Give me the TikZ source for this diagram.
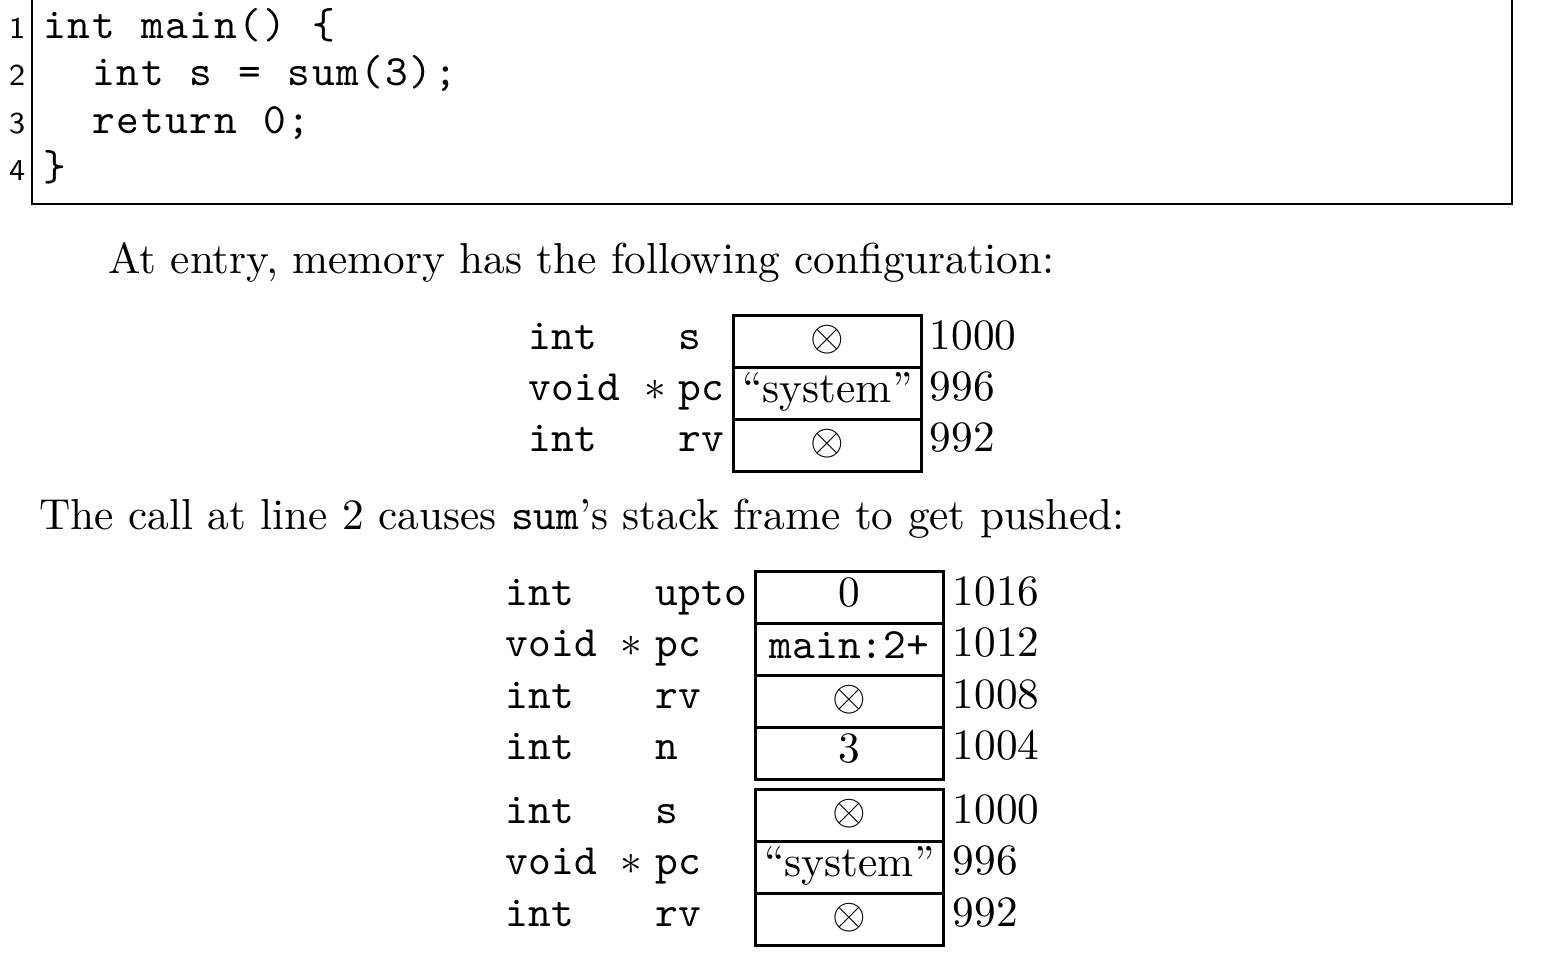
\documentclass[tikz,border=0pt]{standalone}
\usepackage{amsmath}
\usepackage{tikz}

% one fixed column per character, as in the listing
\newcommand{\fixcols}[1]{\fixcolsi#1\relax}
\newcommand{\fixcolsi}[1]{\ifx\relax#1\else\makebox[5.64pt]{#1}\expandafter\fixcolsi\fi}

\begin{document}
\begin{tikzpicture}[x=0.231pt, y=-0.231pt,
	cell/.style={draw, line width=0.6pt, anchor=north west, inner sep=0pt,
		minimum width=43.5pt, minimum height=12pt, text height=5.2pt, text depth=1pt},
	txt/.style={anchor=base west, inner sep=0pt},
	lnum/.style={anchor=base east, inner sep=0pt, font=\scriptsize\sffamily}]
	\useasboundingbox (0,0) rectangle (1566,970);

	% listing
	\draw[line width=0.45pt] (31.7,0) -- (31.7,204.3) -- (1511.7,204.3) -- (1511.7,0);
	\foreach \ln/\code in {1/{int~main()~\{}, 2/{~~int~s~=~sum(3);},
		3/{~~return~0;}, 4/{\}}}
	{
		\node[lnum] (num\ln) at (26, 38+47.5*\ln-47.5) {\ln};
		\node[txt, font=\ttfamily] (code\ln) at (41.8, 38+47.5*\ln-47.5)
			{\expandafter\fixcols\expandafter{\code}};
	}

	\node[txt] (entry) at (107.5,273) {At entry, memory has the following configuration:};

	% memory at entry
	\foreach \val/\typ/\nam/\addr [count=\i from 0] in
		{{$\otimes$}/int/s/1000, {``system''}/void/pc/996, {$\otimes$}/int/rv/992}
	{
		\node[cell] (a\i) at (732, 314+52*\i) {\val};
		\node[txt] (at\i) at (528, 349+51*\i) {\texttt{\typ}};
		\node[txt] (an\i) at (678, 349+51*\i) {\texttt{\nam}};
		\node[txt] (aa\i) at (929, 349+51*\i) {\addr};
	}
	\node[anchor=base, inner sep=0pt] (astar) at (655,400) {$*$};

	\node[txt] (push) at (38.5,529) {The call at line 2 causes \texttt{sum}'s stack frame to get pushed:};

	% frame of sum
	\foreach \val/\typ/\nam/\addr [count=\i from 0] in
		{0/int/upto/1016, {\texttt{main:2+}}/void/pc/1012, {$\otimes$}/int/rv/1008, 3/int/n/1004}
	{
		\node[cell] (b\i) at (754, 570+52*\i) {\val};
		\node[txt] (bt\i) at (505, 605+51.5*\i) {\texttt{\typ}};
		\node[txt] (bn\i) at (655, 605+51.5*\i) {\texttt{\nam}};
		\node[txt] (ba\i) at (952, 605+51.5*\i) {\addr};
	}
	\node[anchor=base, inner sep=0pt] (bstar) at (631.5,656.5) {$*$};

	% frame of main
	\foreach \val/\typ/\nam/\addr [count=\i from 0] in
		{{$\otimes$}/int/s/1000, {``system''}/void/pc/996, {$\otimes$}/int/rv/992}
	{
		\node[cell] (c\i) at (754, 788+52*\i) {\val};
		\node[txt] (ct\i) at (505, 823+51.5*\i) {\texttt{\typ}};
		\node[txt] (cn\i) at (655, 823+51.5*\i) {\texttt{\nam}};
		\node[txt] (ca\i) at (952, 823+51.5*\i) {\addr};
	}
	\node[anchor=base, inner sep=0pt] (cstar) at (631.5,874.5) {$*$};
\end{tikzpicture}
\end{document}
